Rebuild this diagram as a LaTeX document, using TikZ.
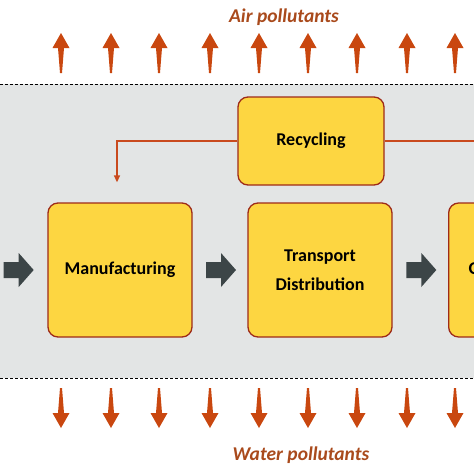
\documentclass[tikz,border=0pt]{standalone}
\usepackage{fontspec}
\setmainfont{Carlito}
\usetikzlibrary{arrows.meta,calc}
\definecolor{band}{HTML}{E3E5E5}
\definecolor{boxfill}{HTML}{FDD641}
\definecolor{boxline}{HTML}{9E2B18}
\definecolor{poll}{HTML}{C9470F}
\definecolor{polltext}{HTML}{A94A1C}
\definecolor{flow}{HTML}{3C4547}
\definecolor{recl}{HTML}{C94A1E}
\tikzset{
  stage/.style={draw=boxline, line width=1.3pt, fill=boxfill, rounded corners=10pt,
    minimum width=144pt, minimum height=134pt, align=center,
    font=\fontsize{18}{29}\selectfont\bfseries, inner sep=0pt},
  recbox/.style={stage, minimum width=146pt, minimum height=88pt},
  polllabel/.style={font=\fontsize{19.5}{21}\selectfont\bfseries\itshape, text=polltext},
  recline/.style={draw=recl, line width=1.3pt},
  dline/.style={draw=black, line width=0.8pt, dash pattern=on 3pt off 2pt},
}
\begin{document}
\begin{tikzpicture}[x=1pt,y=-1pt]
\useasboundingbox (0,0) rectangle (474,474);
\clip (0,0) rectangle (474,474);
% band
\fill[band] (-5,84) rectangle (480,378);
\draw[dline] (0,84) -- (474,84);
\draw[dline] (0,378) -- (474,378);
% labels
\node[polllabel] (air) at (284,17) {Air pollutants};
\node[polllabel] (water) at (301,455) {Water pollutants};
% pollutant arrows
\foreach \x in {61,111,159,210,259,308,357,407,455}{
  \fill[poll] (\x,33) -- (\x+8.5,48) -- (\x+3,48) -- (\x+1,73) -- (\x-1,73) -- (\x-3,48) -- (\x-8.5,48) -- cycle;
  \fill[poll] (\x,428) -- (\x+8.5,413) -- (\x+3,413) -- (\x+1,388) -- (\x-1,388) -- (\x-3,413) -- (\x-8.5,413) -- cycle;
}
% stages
\node[stage] (man) at (120,270) {Manufacturing};
\node[stage] (tr) at (320,270) {Transport\\Distribution};
\node[stage, anchor=west, text width=130pt, align=left] (op) at (448,270) {\hspace*{13pt}Operation};
\node[recbox] (rec) at (311,141) {Recycling};
% recycling links
\coordinate (recend) at (474,141);
\coordinate (mantop) at ($(man.north)+(-3,-20)$);
\draw[recline] (rec.east) -- (rec.east -| recend);
\draw[recline,-{Triangle[length=7pt,width=6pt]}] (rec.west) -| (mantop);
% flow arrows
\newcommand\flowarrow[1]{%
  \fill[flow] ($(#1)+(-15,-8)$) -- ($(#1)+(0,-8)$) -- ($(#1)+(0,-17)$) -- ($(#1)+(15,0)$)
    -- ($(#1)+(0,17)$) -- ($(#1)+(0,8)$) -- ($(#1)+(-15,8)$) -- cycle;}
\coordinate (in) at (0,270);
\coordinate (f1) at ($(in)!0.5!(man.west)$);
\coordinate (f2) at ($(man.east)!0.5!(tr.west)$);
\coordinate (f3) at ($(tr.east)!0.5!(op.west)$);
\flowarrow{$(f1)+(-5,0)$}
\flowarrow{$(f2)+(1,0)$}
\flowarrow{$(f3)+(1,0)$}
\end{tikzpicture}
\end{document}
